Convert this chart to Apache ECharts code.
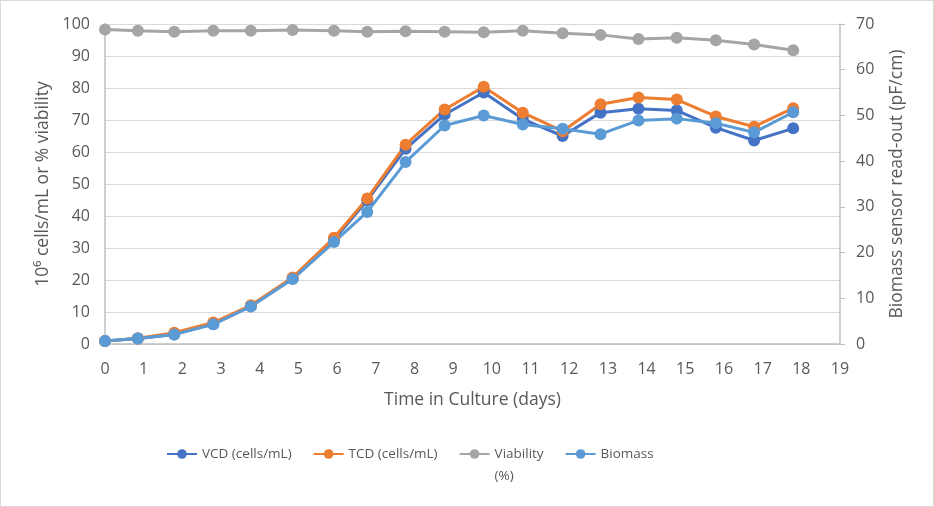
<!DOCTYPE html>
<html>
<head>
<meta charset="utf-8">
<script src="https://cdn.jsdelivr.net/npm/echarts@6/dist/echarts.min.js"></script>
<style>
html,body{margin:0;padding:0;background:#fff;}
#wrap{position:absolute;left:0;top:0;width:932px;height:505px;border:1px solid #d9d9d9;}
#chart{width:932px;height:505px;}
</style>
</head>
<body>
<div id="wrap"><div id="chart"></div></div>
<script>
const days = [0, 0.85, 1.79, 2.8, 3.77, 4.85, 5.92, 6.78, 7.77, 8.78, 9.79, 10.8, 11.83, 12.81, 13.79, 14.78, 15.79, 16.78, 17.79];
const vcd = [0.9, 1.7, 3.0, 6.2, 11.8, 20.4, 32.6, 44.9, 61.0, 71.7, 78.6, 70.3, 65.0, 72.3, 73.5, 73.0, 67.6, 63.6, 67.4];
const tcd = [0.9, 1.8, 3.5, 6.7, 12.1, 20.8, 33.2, 45.5, 62.3, 73.3, 80.4, 72.3, 66.5, 74.9, 77.0, 76.4, 71.1, 67.9, 73.7];
const viability = [98.3, 97.9, 97.6, 97.9, 97.9, 98.1, 97.9, 97.6, 97.7, 97.6, 97.4, 97.9, 97.1, 96.6, 95.3, 95.7, 94.9, 93.6, 91.8];
const biomass = [0.65, 1.2, 2.1, 4.3, 8.2, 14.2, 22.3, 28.9, 39.8, 47.8, 50.0, 48.0, 47.1, 45.9, 48.9, 49.3, 48.3, 46.3, 50.7];
const seriesNames = ['VCD (cells/mL)', 'TCD (cells/mL)', 'Viability (%)', 'Biomass'];
const xTicks = [0, 19, 1];
const yLeft = [0, 100, 10];
const yRight = [0, 70, 10];

const pairs = arr => arr.map((v, i) => [days[i], v]);
const txt = '#595959';
const font = 'Open Sans';

const chart = echarts.init(document.getElementById('chart'));
function mk(name, data, color, yIdx) {
  return {
    name: name, type: 'line', data: pairs(data), yAxisIndex: yIdx,
    symbol: 'circle', symbolSize: 12,
    itemStyle: {color: color},
    lineStyle: {color: color, width: 3},
    emphasis: {disabled: true}
  };
}
chart.setOption({
  animation: false,
  textStyle: {fontFamily: font},
  grid: {left: 104, right: 93, top: 23, bottom: 162},
  legend: {
    top: 415, left: 160, itemGap: 21, itemWidth: 30, itemHeight: 12,
    textStyle: {color: txt, fontSize: 13.5, fontFamily: font, lineHeight: 22},
    formatter: function (name) {
      return name === 'Viability (%)' ? ' \nViability\n(%)' : name;
    },
    data: seriesNames
  },
  xAxis: {
    type: 'value', min: xTicks[0], max: xTicks[1], interval: xTicks[2],
    name: 'Time in Culture (days)', nameLocation: 'middle', nameGap: 47,
    nameTextStyle: {color: txt, fontSize: 17.5, fontFamily: font},
    axisLine: {show: true, lineStyle: {color: '#bfbfbf', width: 1.5}},
    axisTick: {show: false},
    axisLabel: {color: txt, fontSize: 16, margin: 17},
    splitLine: {show: false}
  },
  yAxis: [{
    type: 'value', min: yLeft[0], max: yLeft[1], interval: yLeft[2],
    name: '10⁶ cells/mL or % viability', nameLocation: 'middle', nameGap: 46, nameRotate: 90,
    nameTextStyle: {color: txt, fontSize: 17.5, fontFamily: font},
    axisLine: {show: true, lineStyle: {color: '#bfbfbf', width: 1.5}},
    axisTick: {show: false},
    axisLabel: {color: txt, fontSize: 16, margin: 15},
    splitLine: {show: true, lineStyle: {color: '#d9d9d9', width: 1}}
  }, {
    type: 'value', min: yRight[0], max: yRight[1], interval: yRight[2], position: 'right',
    name: 'Biomass sensor read-out (pF/cm)', nameLocation: 'middle', nameGap: 48, nameRotate: 90,
    nameTextStyle: {color: txt, fontSize: 17.5, fontFamily: font},
    axisLine: {show: true, lineStyle: {color: '#bfbfbf', width: 1.5}},
    axisTick: {show: true, length: 5, lineStyle: {color: '#bfbfbf'}},
    axisLabel: {color: txt, fontSize: 16, margin: 16},
    splitLine: {show: false}
  }],
  series: [
    mk(seriesNames[0], vcd, '#4472C4', 0),
    mk(seriesNames[1], tcd, '#ED7D31', 0),
    mk(seriesNames[2], viability, '#A5A5A5', 0),
    mk(seriesNames[3], biomass, '#5B9BD5', 1)
  ]
});
</script>
</body>
</html>
